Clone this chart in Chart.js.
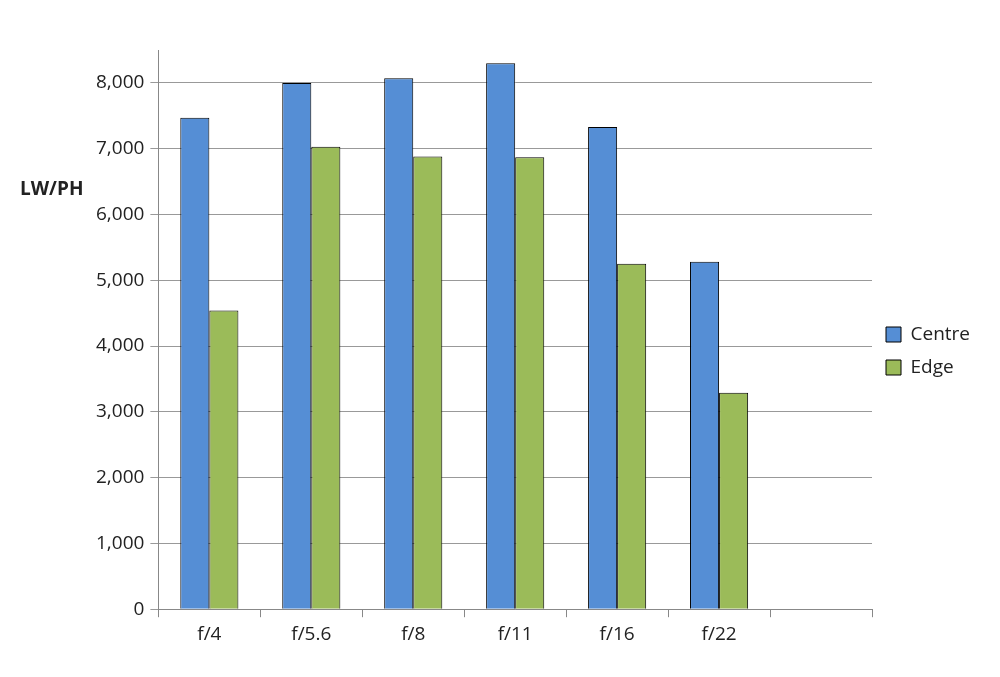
<!DOCTYPE html>
<html><head><meta charset="utf-8">
<script src="https://cdn.jsdelivr.net/npm/chart.js@4"></script>
<style>
body{margin:0;background:#fff;}
#wrap{position:relative;width:1000px;height:677px;}
#ytitle{position:absolute;left:20px;top:175px;font:bold 19px "Open Sans",sans-serif;color:#222;}
</style></head>
<body>
<div id="wrap"><canvas id="c" width="1000" height="677"></canvas><div id="ytitle">LW/PH</div></div>
<script>
const categories = ["f/4", "f/5.6", "f/8", "f/11", "f/16", "f/22", ""];
const centre = [7470, 8000, 8070, 8300, 7330, 5280, null];
const edge = [4540, 7030, 6880, 6870, 5250, 3290, null];
const yTicks = [0, 1000, 2000, 3000, 4000, 5000, 6000, 7000, 8000];

const font = { family: "'Open Sans', sans-serif", size: 19 };

new Chart(document.getElementById("c"), {
  type: "bar",
  data: {
    labels: categories,
    datasets: [
      { label: "Centre", data: centre, backgroundColor: "#558ed5", borderColor: "#000", borderWidth: 1 },
      { label: "Edge", data: edge, backgroundColor: "#9bbb59", borderColor: "#000", borderWidth: 1 },
    ],
  },
  options: {
    responsive: false,
    animation: false,
    layout: { padding: { left: 90, top: 50, right: 20, bottom: 25 } },
    datasets: { bar: { categoryPercentage: 0.57, barPercentage: 1 } },
    plugins: {
      tooltip: { enabled: false },
      legend: {
        position: "right",
        labels: { font: font, color: "#222", boxWidth: 15, boxHeight: 15, padding: 14 },
      },
    },
    scales: {
      x: {
        grid: { drawOnChartArea: false, offset: true, color: "#888", tickLength: 8 },
        border: { color: "#888" },
        ticks: { font: font, color: "#222", padding: 6 },
      },
      y: {
        min: 0,
        max: 8500,
        afterBuildTicks: (axis) => { axis.ticks = yTicks.map((v) => ({ value: v })); },
        grid: { color: "#999", tickLength: 8 },
        border: { color: "#888" },
        ticks: { font: font, color: "#222", padding: 6 },
      },
    },
  },
});
</script>
</body></html>
